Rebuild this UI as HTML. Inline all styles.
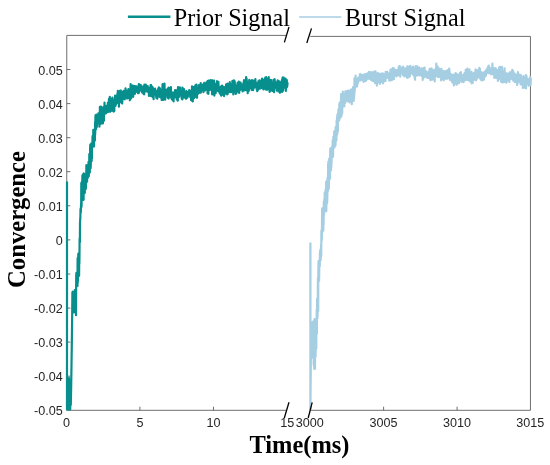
<!DOCTYPE html>
<html><head><meta charset="utf-8"><title>Convergence</title>
<style>
html,body{margin:0;padding:0;background:#fff;}
svg{display:block;}
.tk{font-family:"Liberation Sans",Arial,Helvetica,sans-serif;font-size:11.9px;fill:#262626;}
.lg{font-family:"Liberation Serif","Times New Roman",Times,serif;font-size:24.4px;fill:#000;}
.ax{font-family:"Liberation Serif","Times New Roman",Times,serif;font-weight:bold;fill:#000;}
</style></head>
<body>
<svg width="550" height="465" viewBox="0 0 550 465">
<rect x="0" y="0" width="550" height="465" fill="#ffffff"/>
<!-- axes frames -->
<g fill="none" stroke="#5e5e5e" stroke-width="0.9">
<polyline points="286.6,35.4 66.75,35.4 66.75,410.3 286.6,410.3"/>
<polyline points="310.3,36.4 530.45,36.4 530.45,410.3 310.6,410.3"/>
<!-- y ticks -->
<path d="M66.75,69.5h3.6M66.75,103.6h3.6M66.75,137.7h3.6M66.75,171.7h3.6M66.75,205.8h3.6M66.75,239.9h3.6M66.75,274h3.6M66.75,308.1h3.6M66.75,342.1h3.6M66.75,376.2h3.6"/>
<!-- x ticks -->
<path d="M139.9,410.3v-3.6M213.5,410.3v-3.6M383.6,410.3v-3.6M457.1,410.3v-3.6"/>
</g>
<!-- curves -->
<polyline fill="none" stroke="#078f8d" stroke-width="2.2" stroke-linejoin="round" points="67.0,181.5 67.0,409.6 67.4,385.0 67.8,409.0 68.2,380.0 68.6,409.5 69.0,378.0 69.4,409.0 69.8,382.0 70.2,409.5 70.6,392.0 70.8,405.0 71.2,385.0 71.5,365.0 71.8,345.0 72.0,330.0 72.2,313.2 72.4,292.6 72.5,292.0 72.7,304.1 72.8,291.7 73.0,291.9 73.2,292.4 73.3,294.8 73.5,304.8 73.6,299.6 73.8,312.5 74.0,296.4 74.1,296.9 74.3,310.9 74.4,305.9 74.6,298.5 74.8,290.0 74.9,294.0 75.1,296.9 75.2,304.3 75.4,309.8 75.6,306.2 75.7,299.2 75.9,311.1 76.0,315.2 76.2,275.9 76.4,272.8 76.5,277.7 76.7,283.3 76.8,276.9 77.0,279.3 77.2,276.2 77.3,283.0 77.5,286.0 77.6,258.2 77.8,278.1 78.0,281.9 78.1,263.5 78.3,253.8 78.4,267.6 78.6,253.4 78.8,275.4 78.9,261.4 79.1,275.8 79.2,259.6 79.4,263.6 79.6,240.0 79.7,238.0 79.9,242.2 80.0,223.0 80.2,219.4 80.4,216.2 80.5,209.1 80.7,208.5 80.8,212.8 81.0,205.6 81.2,202.6 81.3,183.0 81.5,207.0 81.6,203.9 81.8,182.0 82.0,197.4 82.1,183.6 82.3,181.3 82.4,175.5 82.6,179.3 82.8,174.6 82.9,199.8 83.1,179.9 83.2,181.9 83.4,196.4 83.6,199.8 83.7,173.4 83.9,173.7 84.0,192.7 84.2,174.9 84.4,183.9 84.5,174.2 84.7,183.1 84.8,193.0 85.0,175.9 85.2,177.7 85.3,180.8 85.5,185.7 85.6,185.8 85.8,188.9 86.0,184.3 86.1,181.8 86.3,172.7 86.4,165.1 86.6,169.7 86.8,177.8 86.9,181.7 87.1,181.7 87.2,167.8 87.4,167.7 87.6,173.9 87.7,177.9 87.9,173.7 88.0,175.6 88.2,176.8 88.4,174.1 88.5,161.9 88.7,172.9 88.8,176.2 89.0,162.5 89.2,169.1 89.3,154.2 89.5,171.9 89.6,168.5 89.8,172.6 90.0,163.2 90.1,148.2 90.3,144.5 90.4,157.8 90.6,168.1 90.8,164.3 90.9,147.4 91.1,147.5 91.2,155.4 91.4,143.3 91.6,161.3 91.7,152.2 91.9,159.0 92.0,148.1 92.2,147.8 92.4,144.5 92.5,137.2 92.7,135.8 92.8,142.3 93.0,137.6 93.2,141.4 93.3,129.8 93.5,140.4 93.6,144.9 93.8,137.0 94.0,146.4 94.1,132.9 94.3,133.5 94.4,136.8 94.6,130.2 94.8,140.6 94.9,139.3 95.1,121.9 95.2,134.3 95.4,117.3 95.6,115.0 95.7,117.8 95.9,128.3 96.0,129.3 96.2,123.9 96.4,114.5 96.5,115.5 96.7,126.5 96.8,126.9 97.0,124.3 97.2,121.7 97.3,123.1 97.5,114.8 97.6,118.3 97.8,119.9 98.0,122.1 98.1,118.1 98.3,117.2 98.4,113.3 98.6,116.1 98.8,121.7 98.9,117.9 99.1,113.4 99.2,113.3 99.4,126.7 99.6,122.1 99.7,119.6 99.9,106.8 100.0,119.3 100.2,118.5 100.4,123.9 100.5,118.0 100.7,115.5 100.8,118.1 101.0,106.5 101.2,120.2 101.3,116.8 101.5,111.8 101.6,121.2 101.8,123.3 102.0,108.1 102.1,111.4 102.3,115.8 102.4,115.1 102.6,112.2 102.8,109.4 102.9,123.4 103.1,118.3 103.2,107.9 103.4,107.0 103.6,120.7 103.7,117.3 103.9,120.8 104.0,116.1 104.2,108.4 104.4,113.2 104.5,102.6 104.7,108.4 104.8,111.3 105.0,113.6 105.2,108.0 105.3,110.4 105.5,112.8 105.6,112.2 105.8,113.1 106.0,111.1 106.1,108.6 106.3,113.2 106.4,109.8 106.6,105.9 106.8,106.6 106.9,109.1 107.1,108.4 107.2,109.4 107.4,108.5 107.6,109.1 107.7,107.6 107.9,102.7 108.0,109.5 108.2,112.0 108.4,109.2 108.5,106.4 108.7,108.9 108.8,102.8 109.0,98.8 109.2,106.7 109.3,102.3 109.5,109.1 109.6,101.2 109.8,96.8 110.0,101.0 110.1,111.8 110.3,103.4 110.4,98.9 110.6,101.3 110.8,106.7 110.9,106.5 111.1,104.9 111.2,110.6 111.4,106.9 111.6,103.5 111.7,106.1 111.9,110.8 112.0,107.6 112.2,107.7 112.4,97.6 112.5,101.8 112.7,105.8 112.8,100.8 113.0,107.2 113.2,104.8 113.3,106.2 113.5,100.8 113.6,111.6 113.8,107.5 114.0,100.5 114.1,101.9 114.3,111.1 114.4,99.7 114.6,105.2 114.8,105.6 114.9,101.1 115.1,95.6 115.2,101.7 115.4,102.4 115.6,105.8 115.7,104.1 115.9,100.7 116.0,104.3 116.2,102.8 116.4,101.2 116.5,100.5 116.7,99.1 116.8,103.1 117.0,95.4 117.2,97.2 117.3,99.8 117.5,93.4 117.6,97.8 117.8,90.9 118.0,96.5 118.1,101.8 118.3,101.7 118.4,99.0 118.6,98.2 118.8,93.1 118.9,106.7 119.1,101.1 119.2,103.4 119.4,95.1 119.6,97.9 119.7,91.0 119.9,101.8 120.0,102.3 120.2,90.5 120.4,98.1 120.5,100.8 120.7,90.9 120.8,90.5 121.0,93.6 121.2,95.3 121.3,92.1 121.5,97.9 121.6,98.7 121.8,100.2 122.0,100.4 122.1,103.5 122.3,102.1 122.4,92.1 122.6,95.3 122.8,93.0 122.9,92.9 123.1,96.8 123.2,97.1 123.4,99.0 123.6,90.8 123.7,92.2 123.9,96.8 124.0,96.1 124.2,95.6 124.4,96.5 124.5,93.8 124.7,99.3 124.8,97.9 125.0,96.2 125.2,93.9 125.3,95.7 125.5,88.4 125.6,92.5 125.8,96.2 126.0,90.3 126.1,96.8 126.3,96.8 126.4,90.5 126.6,95.3 126.8,94.9 126.9,98.0 127.1,98.5 127.2,95.5 127.4,92.0 127.6,94.7 127.7,94.9 127.9,97.9 128.0,96.0 128.2,91.7 128.4,89.1 128.5,92.8 128.7,91.2 128.8,89.7 129.0,93.3 129.2,91.7 129.3,93.7 129.5,95.0 129.6,91.4 129.8,100.3 130.0,91.3 130.1,96.2 130.3,92.5 130.4,95.8 130.6,84.2 130.8,88.8 130.9,92.2 131.1,93.3 131.2,98.5 131.4,92.0 131.6,95.3 131.7,93.3 131.9,93.8 132.0,92.0 132.2,89.4 132.4,91.7 132.5,85.7 132.7,93.9 132.8,85.6 133.0,90.1 133.2,96.8 133.3,88.1 133.5,89.0 133.6,93.0 133.8,88.9 134.0,86.0 134.1,89.6 134.3,90.6 134.4,90.9 134.6,86.2 134.8,94.0 134.9,93.6 135.1,88.5 135.2,89.2 135.4,87.2 135.6,92.2 135.7,86.4 135.9,90.0 136.0,87.0 136.2,86.4 136.4,89.9 136.5,91.3 136.7,88.1 136.8,86.6 137.0,90.1 137.2,88.1 137.3,89.0 137.5,91.8 137.6,90.9 137.8,87.1 138.0,93.3 138.1,88.3 138.3,90.2 138.4,86.8 138.6,88.3 138.8,84.2 138.9,92.7 139.1,91.7 139.2,85.5 139.4,84.8 139.6,84.5 139.7,91.3 139.9,87.3 140.0,88.3 140.2,87.7 140.4,88.2 140.5,85.8 140.7,88.6 140.8,85.0 141.0,88.4 141.2,89.3 141.3,89.7 141.5,88.0 141.6,86.4 141.8,89.1 142.0,87.5 142.1,92.6 142.3,90.7 142.4,88.5 142.6,87.6 142.8,87.1 142.9,86.5 143.1,88.0 143.2,89.7 143.4,90.2 143.6,90.4 143.7,94.2 143.9,87.3 144.0,89.1 144.2,94.3 144.4,84.5 144.5,87.9 144.7,89.6 144.8,89.6 145.0,90.3 145.2,88.7 145.3,90.2 145.5,89.5 145.6,91.3 145.8,84.7 146.0,87.2 146.1,89.4 146.3,86.9 146.4,86.9 146.6,91.1 146.8,87.9 146.9,91.2 147.1,91.5 147.2,90.5 147.4,91.1 147.6,89.5 147.7,86.1 147.9,89.9 148.0,91.3 148.2,88.6 148.4,89.8 148.5,92.3 148.7,87.7 148.8,92.2 149.0,95.9 149.2,88.8 149.3,91.0 149.5,90.1 149.6,95.4 149.8,91.7 150.0,93.6 150.1,88.6 150.3,90.8 150.4,90.9 150.6,85.1 150.8,95.9 150.9,94.2 151.1,85.2 151.2,93.8 151.4,90.9 151.6,92.9 151.7,92.7 151.9,86.4 152.0,90.9 152.2,96.7 152.4,89.8 152.5,88.3 152.7,87.3 152.8,87.8 153.0,93.1 153.2,97.7 153.3,93.6 153.5,93.0 153.6,99.2 153.8,90.6 154.0,90.2 154.1,94.2 154.3,94.3 154.4,89.3 154.6,88.8 154.8,93.7 154.9,93.6 155.1,88.6 155.2,92.3 155.4,91.2 155.6,94.5 155.7,92.8 155.9,92.9 156.0,92.2 156.2,96.7 156.4,97.9 156.5,92.3 156.7,96.3 156.8,91.2 157.0,93.9 157.2,96.2 157.3,98.6 157.5,92.7 157.6,93.8 157.8,94.7 158.0,89.2 158.1,94.1 158.3,91.8 158.4,95.3 158.6,90.3 158.8,87.4 158.9,94.2 159.1,94.9 159.2,92.1 159.4,96.8 159.6,92.9 159.7,91.7 159.9,95.3 160.0,88.4 160.2,91.3 160.4,93.4 160.5,96.2 160.7,92.8 160.8,94.3 161.0,91.1 161.2,94.1 161.3,98.5 161.5,90.5 161.6,99.9 161.8,90.3 162.0,92.5 162.1,92.9 162.3,95.9 162.4,87.5 162.6,84.1 162.8,94.2 162.9,94.9 163.1,94.1 163.2,100.0 163.4,92.3 163.6,92.4 163.7,95.2 163.9,92.9 164.0,98.2 164.2,86.7 164.4,90.2 164.5,83.7 164.7,95.0 164.8,90.6 165.0,95.5 165.2,99.7 165.3,92.3 165.5,91.5 165.6,90.8 165.8,89.8 166.0,90.6 166.1,94.8 166.3,92.8 166.4,92.9 166.6,92.1 166.8,95.7 166.9,94.4 167.1,92.3 167.2,95.0 167.4,92.3 167.6,88.9 167.7,97.8 167.9,94.5 168.0,89.6 168.2,96.6 168.4,94.1 168.5,87.5 168.7,98.6 168.8,94.2 169.0,96.2 169.2,93.9 169.3,92.8 169.5,88.1 169.6,96.8 169.8,93.6 170.0,92.6 170.1,94.8 170.3,94.0 170.4,96.0 170.6,92.6 170.8,93.8 170.9,87.1 171.1,92.7 171.2,96.3 171.4,98.5 171.6,93.1 171.7,94.0 171.9,99.4 172.0,93.4 172.2,96.8 172.4,99.8 172.5,94.8 172.7,98.5 172.8,92.6 173.0,95.5 173.2,94.7 173.3,95.4 173.5,98.5 173.6,101.4 173.8,93.2 174.0,93.6 174.1,96.7 174.3,92.1 174.4,96.6 174.6,96.8 174.8,94.1 174.9,96.5 175.1,90.1 175.2,97.1 175.4,90.0 175.6,92.5 175.7,92.9 175.9,93.3 176.0,97.2 176.2,94.6 176.4,93.1 176.5,96.0 176.7,99.3 176.8,94.1 177.0,95.2 177.2,98.0 177.3,94.8 177.5,89.6 177.6,100.7 177.8,100.7 178.0,87.0 178.1,93.5 178.3,94.9 178.4,96.7 178.6,95.7 178.8,92.5 178.9,89.9 179.1,93.8 179.2,96.8 179.4,89.9 179.6,90.2 179.7,93.4 179.9,87.4 180.0,92.7 180.2,92.2 180.4,94.9 180.5,91.4 180.7,90.9 180.8,92.4 181.0,93.5 181.2,91.6 181.3,93.7 181.5,96.0 181.6,97.3 181.8,98.8 182.0,91.5 182.1,92.6 182.3,87.7 182.4,99.4 182.6,91.8 182.8,93.8 182.9,95.4 183.1,90.1 183.2,95.3 183.4,93.9 183.6,88.9 183.7,94.9 183.9,97.4 184.0,89.0 184.2,96.3 184.4,94.7 184.5,95.5 184.7,95.4 184.8,97.7 185.0,93.7 185.2,96.5 185.3,93.1 185.5,96.1 185.6,92.0 185.8,93.8 186.0,98.8 186.1,95.3 186.3,93.6 186.4,90.9 186.6,91.8 186.8,94.5 186.9,96.5 187.1,95.1 187.2,95.3 187.4,93.7 187.6,97.6 187.7,92.7 187.9,92.2 188.0,96.2 188.2,93.9 188.4,92.9 188.5,92.0 188.7,92.9 188.8,95.3 189.0,94.6 189.2,90.1 189.3,94.7 189.5,94.0 189.6,90.6 189.8,95.6 190.0,92.6 190.1,92.4 190.3,95.8 190.4,97.4 190.6,91.4 190.8,94.8 190.9,90.8 191.1,100.2 191.2,92.0 191.4,97.5 191.6,91.4 191.7,96.3 191.9,100.7 192.0,86.3 192.2,92.1 192.4,95.4 192.5,93.3 192.7,91.2 192.8,101.4 193.0,94.0 193.2,87.5 193.3,97.0 193.5,87.0 193.6,98.2 193.8,91.3 194.0,94.0 194.1,98.1 194.3,93.7 194.4,87.9 194.6,86.7 194.8,97.2 194.9,95.4 195.1,89.7 195.2,95.6 195.4,94.1 195.6,94.5 195.7,84.8 195.9,91.0 196.0,94.9 196.2,94.2 196.4,94.6 196.5,84.6 196.7,91.9 196.8,92.9 197.0,97.8 197.2,88.0 197.3,89.9 197.5,90.9 197.6,93.4 197.8,89.2 198.0,93.8 198.1,88.0 198.3,91.0 198.4,88.5 198.6,90.4 198.8,87.9 198.9,85.2 199.1,92.9 199.2,90.6 199.4,88.0 199.6,90.2 199.7,92.4 199.9,86.6 200.0,89.1 200.2,90.9 200.4,90.8 200.5,88.2 200.7,83.0 200.8,92.7 201.0,90.0 201.2,89.0 201.3,88.1 201.5,89.6 201.6,87.5 201.8,85.7 202.0,86.5 202.1,86.9 202.3,86.8 202.4,85.1 202.6,90.3 202.8,84.6 202.9,90.3 203.1,85.3 203.2,89.3 203.4,92.2 203.6,88.8 203.7,86.0 203.9,88.2 204.0,88.5 204.2,82.9 204.4,86.2 204.5,88.4 204.7,86.5 204.8,88.1 205.0,90.0 205.2,90.0 205.3,90.4 205.5,89.4 205.6,86.8 205.8,87.5 206.0,86.7 206.1,86.6 206.3,86.9 206.4,82.3 206.6,86.4 206.8,87.3 206.9,84.4 207.1,87.2 207.2,88.8 207.4,86.7 207.6,93.5 207.7,80.9 207.9,86.6 208.0,81.6 208.2,90.3 208.4,93.8 208.5,80.7 208.7,87.7 208.8,88.9 209.0,86.3 209.2,89.0 209.3,80.5 209.5,90.0 209.6,88.5 209.8,87.4 210.0,85.4 210.1,89.4 210.3,85.7 210.4,88.1 210.6,85.6 210.8,80.2 210.9,87.2 211.1,88.0 211.2,89.9 211.4,84.3 211.6,87.2 211.7,89.5 211.9,87.9 212.0,91.7 212.2,94.5 212.4,84.1 212.5,80.4 212.7,90.5 212.8,93.0 213.0,90.8 213.2,90.5 213.3,85.1 213.5,84.8 213.6,90.8 213.8,84.0 214.0,80.7 214.1,83.8 214.3,95.6 214.4,95.0 214.6,85.2 214.8,85.1 214.9,88.8 215.1,85.2 215.2,93.0 215.4,87.9 215.6,84.2 215.7,93.1 215.9,86.2 216.0,89.2 216.2,88.4 216.4,87.4 216.5,89.8 216.7,86.1 216.8,82.0 217.0,81.2 217.2,84.3 217.3,86.2 217.5,88.9 217.6,89.2 217.8,91.0 218.0,89.5 218.1,86.3 218.3,86.7 218.4,81.8 218.6,88.6 218.8,90.9 218.9,91.1 219.1,88.8 219.2,88.7 219.4,92.6 219.6,89.4 219.7,91.9 219.9,91.4 220.0,90.2 220.2,93.9 220.4,87.5 220.5,88.3 220.7,86.7 220.8,86.8 221.0,94.9 221.2,95.6 221.3,89.7 221.5,91.6 221.6,93.7 221.8,92.4 222.0,93.8 222.1,85.5 222.3,87.6 222.4,91.3 222.6,94.6 222.8,90.1 222.9,86.9 223.1,88.6 223.2,87.6 223.4,86.9 223.6,94.4 223.7,87.6 223.9,89.6 224.0,96.1 224.2,93.2 224.4,90.5 224.5,87.4 224.7,90.6 224.8,94.3 225.0,91.1 225.2,93.0 225.3,89.4 225.5,90.6 225.6,88.3 225.8,90.2 226.0,92.8 226.1,84.4 226.3,88.5 226.4,89.4 226.6,86.9 226.8,87.6 226.9,90.9 227.1,94.5 227.2,90.3 227.4,89.3 227.6,83.6 227.7,94.0 227.9,88.4 228.0,88.0 228.2,84.7 228.4,87.8 228.5,84.6 228.7,88.1 228.8,89.2 229.0,87.8 229.2,88.6 229.3,85.2 229.5,92.0 229.6,85.7 229.8,82.2 230.0,87.1 230.1,85.4 230.3,84.6 230.4,86.6 230.6,88.6 230.8,84.0 230.9,87.2 231.1,92.1 231.2,89.8 231.4,87.2 231.6,88.0 231.7,87.2 231.9,87.5 232.0,90.0 232.2,87.3 232.4,80.8 232.5,87.5 232.7,84.7 232.8,89.7 233.0,85.5 233.2,88.0 233.3,94.5 233.5,84.0 233.6,83.8 233.8,82.8 234.0,80.4 234.1,81.1 234.3,88.7 234.4,85.3 234.6,81.1 234.8,82.4 234.9,89.6 235.1,84.9 235.2,86.3 235.4,88.6 235.6,92.0 235.7,93.9 235.9,90.8 236.0,87.9 236.2,88.0 236.4,93.2 236.5,92.0 236.7,86.3 236.8,88.8 237.0,88.2 237.2,87.4 237.3,85.7 237.5,83.1 237.6,85.6 237.8,82.5 238.0,90.9 238.1,88.8 238.3,83.5 238.4,91.3 238.6,89.8 238.8,81.5 238.9,92.5 239.1,89.4 239.2,93.0 239.4,83.5 239.6,88.5 239.7,88.2 239.9,87.5 240.0,87.4 240.2,89.9 240.4,82.6 240.5,83.2 240.7,82.7 240.8,85.1 241.0,84.9 241.2,87.8 241.3,87.4 241.5,86.7 241.6,84.4 241.8,85.1 242.0,89.5 242.1,88.9 242.3,86.7 242.4,85.3 242.6,91.4 242.8,84.3 242.9,88.4 243.1,90.1 243.2,85.2 243.4,88.9 243.6,82.1 243.7,89.6 243.9,86.7 244.0,80.2 244.2,88.3 244.4,82.6 244.5,90.5 244.7,83.2 244.8,85.1 245.0,86.7 245.2,84.3 245.3,86.6 245.5,83.4 245.6,88.1 245.8,85.5 246.0,86.3 246.1,77.0 246.3,90.0 246.4,85.5 246.6,78.5 246.8,85.8 246.9,87.2 247.1,89.5 247.2,81.3 247.4,91.2 247.6,84.8 247.7,93.2 247.9,84.9 248.0,87.9 248.2,84.1 248.4,81.4 248.5,89.4 248.7,88.7 248.8,90.8 249.0,88.4 249.2,83.5 249.3,79.8 249.5,83.3 249.6,83.2 249.8,82.8 250.0,87.4 250.1,86.6 250.3,84.6 250.4,86.0 250.6,85.0 250.8,86.2 250.9,87.9 251.1,88.5 251.2,83.3 251.4,80.7 251.6,89.9 251.7,85.7 251.9,88.8 252.0,80.2 252.2,84.3 252.4,85.4 252.5,80.8 252.7,83.6 252.8,87.5 253.0,88.6 253.2,90.1 253.3,82.4 253.5,80.7 253.6,86.7 253.8,88.0 254.0,85.6 254.1,80.9 254.3,87.4 254.4,87.4 254.6,86.7 254.8,83.4 254.9,85.8 255.1,87.3 255.2,83.1 255.4,79.1 255.6,85.8 255.7,86.3 255.9,84.8 256.0,87.5 256.2,82.9 256.4,84.4 256.5,83.7 256.7,86.4 256.8,89.6 257.0,83.8 257.2,91.1 257.3,89.5 257.5,87.2 257.6,86.6 257.8,90.3 258.0,84.2 258.1,84.4 258.3,81.4 258.4,86.3 258.6,89.1 258.8,86.5 258.9,86.2 259.1,84.2 259.2,85.4 259.4,80.4 259.6,88.3 259.7,83.6 259.9,81.4 260.0,82.6 260.2,82.4 260.4,87.8 260.5,88.5 260.7,80.7 260.8,88.1 261.0,88.0 261.2,83.3 261.3,80.3 261.5,82.8 261.6,83.1 261.8,86.3 262.0,84.1 262.1,78.6 262.3,86.0 262.4,80.1 262.6,88.2 262.8,81.1 262.9,82.8 263.1,82.2 263.2,83.2 263.4,89.4 263.6,87.9 263.7,87.0 263.9,86.0 264.0,79.6 264.2,83.1 264.4,83.0 264.5,81.5 264.7,86.6 264.8,82.2 265.0,82.3 265.2,81.1 265.3,77.5 265.5,86.8 265.6,89.4 265.8,85.3 266.0,81.2 266.1,77.1 266.3,85.2 266.4,88.9 266.6,85.6 266.8,87.8 266.9,89.8 267.1,88.5 267.2,82.8 267.4,88.2 267.6,87.2 267.7,78.7 267.9,82.9 268.0,79.2 268.2,84.0 268.4,86.5 268.5,80.5 268.7,77.0 268.8,89.2 269.0,85.8 269.2,89.8 269.3,79.7 269.5,88.3 269.6,92.0 269.8,91.7 270.0,83.8 270.1,85.5 270.3,84.0 270.4,88.2 270.6,88.3 270.8,84.9 270.9,79.8 271.1,87.3 271.2,83.0 271.4,86.9 271.6,85.6 271.7,90.4 271.9,88.7 272.0,83.1 272.2,86.0 272.4,91.0 272.5,82.9 272.7,86.3 272.8,89.0 273.0,89.2 273.2,86.6 273.3,80.2 273.5,80.5 273.6,85.7 273.8,86.2 274.0,92.2 274.1,81.9 274.3,88.9 274.4,87.6 274.6,79.2 274.8,82.2 274.9,85.6 275.1,83.3 275.2,84.5 275.4,86.6 275.6,82.2 275.7,86.6 275.9,82.8 276.0,83.1 276.2,86.9 276.4,83.0 276.5,86.0 276.7,90.6 276.8,85.1 277.0,84.4 277.2,87.6 277.3,83.6 277.5,88.9 277.6,80.3 277.8,87.2 278.0,83.1 278.1,82.0 278.3,91.4 278.4,81.8 278.6,91.4 278.8,87.4 278.9,90.3 279.1,81.3 279.2,89.4 279.4,90.4 279.6,84.5 279.7,84.4 279.9,92.8 280.0,85.6 280.2,83.3 280.4,82.5 280.5,86.6 280.7,86.2 280.8,85.6 281.0,91.5 281.2,83.6 281.3,86.7 281.5,90.5 281.6,81.0 281.8,88.9 282.0,92.0 282.1,79.6 282.3,80.6 282.4,80.8 282.6,77.6 282.8,86.7 282.9,77.5 283.1,86.9 283.2,90.7 283.4,78.6 283.6,83.8 283.7,77.6 283.9,88.1 284.0,82.3 284.2,84.1 284.4,85.3 284.5,87.1 284.7,83.8 284.8,85.1 285.0,83.2 285.2,85.4 285.3,81.1 285.5,85.2 285.6,78.7 285.8,83.4 286.0,90.9 286.1,85.2 286.3,81.2 286.4,85.7 286.6,82.1 286.8,80.2 286.9,82.8 287.1,86.8 287.2,85.8 287.4,84.6 287.6,82.5"/>
<polyline fill="none" stroke="#a6cee3" stroke-width="2.2" stroke-linejoin="round" points="310.4,242.5 310.4,409.6 311.0,345.0 311.3,325.1 311.5,349.0 311.6,323.6 311.8,353.0 311.9,326.0 312.1,353.0 312.3,322.4 312.4,357.3 312.6,322.1 312.7,352.1 312.9,325.2 313.1,355.7 313.2,325.1 313.4,358.2 313.5,321.2 313.7,364.9 313.9,327.0 314.0,367.0 314.2,324.7 314.3,368.9 314.5,319.0 314.7,363.7 314.8,321.9 315.0,368.7 315.1,321.9 315.3,357.8 315.5,322.8 315.6,356.8 315.8,321.1 315.9,349.0 316.1,320.6 316.3,348.8 316.4,321.1 316.6,334.3 316.7,309.8 316.9,333.8 317.1,298.8 317.2,299.2 317.4,318.1 317.5,316.9 317.7,311.0 317.9,277.8 318.0,300.5 318.2,311.3 318.3,274.6 318.5,262.5 318.7,260.8 318.8,261.0 319.0,266.4 319.1,280.8 319.3,266.7 319.5,266.4 319.6,260.0 319.8,266.2 319.9,253.0 320.1,252.4 320.3,249.9 320.4,258.1 320.6,251.0 320.7,260.2 320.9,249.9 321.1,244.7 321.2,256.2 321.4,230.5 321.5,233.0 321.7,240.9 321.9,236.1 322.0,221.7 322.2,208.4 322.3,225.5 322.5,231.7 322.7,231.3 322.8,229.4 323.0,208.6 323.1,229.1 323.3,230.6 323.5,208.8 323.6,224.6 323.8,201.7 323.9,202.0 324.1,215.0 324.3,199.4 324.4,200.3 324.6,207.0 324.7,192.5 324.9,196.9 325.1,208.5 325.2,205.1 325.4,202.2 325.5,190.9 325.7,189.4 325.9,201.3 326.0,194.5 326.2,181.5 326.3,211.3 326.5,198.1 326.7,201.6 326.8,186.5 327.0,190.6 327.1,203.3 327.3,198.0 327.5,177.9 327.6,192.2 327.8,190.5 327.9,190.8 328.1,164.2 328.3,167.8 328.4,161.5 328.6,177.3 328.7,189.0 328.9,186.7 329.1,168.8 329.2,158.7 329.4,171.7 329.5,172.7 329.7,163.8 329.9,164.2 330.0,178.8 330.2,149.2 330.3,149.3 330.5,171.0 330.7,148.1 330.8,167.2 331.0,170.3 331.1,151.6 331.3,167.3 331.5,161.7 331.6,162.0 331.8,149.1 331.9,148.2 332.1,153.5 332.3,146.0 332.4,154.9 332.6,144.5 332.7,140.2 332.9,156.9 333.1,154.7 333.2,145.1 333.4,136.5 333.5,146.9 333.7,142.0 333.9,141.8 334.0,144.5 334.2,131.4 334.3,145.0 334.5,147.5 334.7,134.3 334.8,133.8 335.0,144.6 335.1,137.1 335.3,133.1 335.5,145.5 335.6,127.0 335.8,129.4 335.9,133.7 336.1,127.3 336.3,129.7 336.4,140.7 336.6,122.1 336.7,120.1 336.9,134.3 337.1,117.1 337.2,134.4 337.4,114.6 337.5,132.3 337.7,122.1 337.9,131.2 338.0,113.4 338.2,113.3 338.3,112.7 338.5,109.3 338.7,116.9 338.8,111.4 339.0,119.5 339.1,120.7 339.3,104.5 339.5,117.2 339.6,102.5 339.8,117.4 339.9,118.3 340.1,109.8 340.3,108.9 340.4,117.8 340.6,116.6 340.7,104.7 340.9,110.0 341.1,94.1 341.2,107.1 341.4,95.7 341.5,116.1 341.7,100.1 341.9,111.4 342.0,95.1 342.2,113.3 342.3,105.0 342.5,107.0 342.7,97.4 342.8,91.6 343.0,98.4 343.1,97.6 343.3,98.3 343.5,102.3 343.6,97.3 343.8,98.9 343.9,99.8 344.1,97.3 344.3,106.4 344.4,99.1 344.6,97.2 344.7,95.7 344.9,93.6 345.1,103.1 345.2,97.2 345.4,91.3 345.5,93.7 345.7,95.7 345.9,94.4 346.0,101.5 346.2,91.4 346.3,98.9 346.5,97.4 346.7,91.8 346.8,97.1 347.0,96.6 347.1,99.1 347.3,95.3 347.5,98.4 347.6,90.8 347.8,93.2 347.9,100.4 348.1,101.3 348.3,97.5 348.4,95.5 348.6,101.5 348.7,90.7 348.9,95.2 349.1,100.1 349.2,100.1 349.4,94.9 349.5,92.4 349.7,102.5 349.9,98.4 350.0,95.0 350.2,98.0 350.3,100.6 350.5,90.6 350.7,101.3 350.8,99.9 351.0,89.7 351.1,99.6 351.3,89.6 351.5,100.5 351.6,97.3 351.8,104.2 351.9,92.4 352.1,94.7 352.3,99.2 352.4,91.0 352.6,90.2 352.7,91.5 352.9,92.6 353.1,87.0 353.2,94.9 353.4,95.0 353.5,92.0 353.7,101.1 353.9,89.0 354.0,98.5 354.2,87.2 354.3,95.1 354.5,78.2 354.7,91.4 354.8,88.6 355.0,86.1 355.1,84.9 355.3,86.0 355.5,83.4 355.6,75.6 355.8,83.1 355.9,82.8 356.1,82.5 356.3,79.5 356.4,83.2 356.6,86.6 356.7,81.6 356.9,80.1 357.1,86.5 357.2,84.3 357.4,83.6 357.5,84.1 357.7,78.9 357.9,79.3 358.0,83.0 358.2,77.5 358.3,78.6 358.5,79.9 358.7,79.6 358.8,77.4 359.0,80.7 359.1,77.3 359.3,79.6 359.5,80.4 359.6,79.2 359.8,79.3 359.9,74.5 360.1,74.1 360.3,75.8 360.4,78.3 360.6,80.5 360.7,74.3 360.9,77.6 361.1,75.1 361.2,75.4 361.4,76.4 361.5,78.5 361.7,77.5 361.9,79.6 362.0,75.0 362.2,79.1 362.3,79.2 362.5,77.3 362.7,78.3 362.8,76.0 363.0,74.9 363.1,76.4 363.3,75.9 363.5,82.0 363.6,76.4 363.8,81.1 363.9,77.9 364.1,78.2 364.3,79.1 364.4,75.7 364.6,79.6 364.7,78.3 364.9,74.0 365.1,78.9 365.2,78.8 365.4,78.6 365.5,81.2 365.7,76.5 365.9,78.7 366.0,79.3 366.2,75.3 366.3,80.4 366.5,74.0 366.7,74.3 366.8,78.8 367.0,74.8 367.1,77.2 367.3,73.4 367.5,77.7 367.6,74.7 367.8,78.4 367.9,73.6 368.1,78.7 368.3,76.9 368.4,77.8 368.6,77.4 368.7,77.9 368.9,74.1 369.1,71.9 369.2,77.7 369.4,75.1 369.5,76.4 369.7,78.8 369.9,72.1 370.0,75.5 370.2,75.9 370.3,74.7 370.5,78.6 370.7,77.3 370.8,75.3 371.0,74.8 371.1,80.1 371.3,75.8 371.5,79.4 371.6,79.0 371.8,72.0 371.9,74.4 372.1,77.7 372.3,78.8 372.4,80.1 372.6,80.2 372.7,81.0 372.9,76.6 373.1,77.1 373.2,80.2 373.4,76.4 373.5,81.2 373.7,72.7 373.9,79.9 374.0,77.2 374.2,71.5 374.3,81.1 374.5,79.0 374.7,78.1 374.8,74.6 375.0,76.6 375.1,83.2 375.3,75.5 375.5,71.3 375.6,75.5 375.8,74.4 375.9,78.1 376.1,77.3 376.3,75.6 376.4,75.9 376.6,82.3 376.7,73.9 376.9,85.6 377.1,77.1 377.2,75.3 377.4,81.7 377.5,80.9 377.7,75.6 377.9,81.4 378.0,73.1 378.2,76.1 378.3,82.5 378.5,78.2 378.7,75.1 378.8,80.5 379.0,81.7 379.1,78.9 379.3,73.9 379.5,78.0 379.6,80.1 379.8,81.1 379.9,83.9 380.1,78.3 380.3,77.8 380.4,78.9 380.6,82.0 380.7,76.6 380.9,82.1 381.1,73.5 381.2,80.8 381.4,77.0 381.5,79.8 381.7,80.3 381.9,75.6 382.0,78.3 382.2,79.0 382.3,79.9 382.5,76.0 382.7,75.8 382.8,73.3 383.0,83.5 383.1,77.6 383.3,77.5 383.5,74.2 383.6,80.3 383.8,76.5 383.9,81.5 384.1,80.0 384.3,77.8 384.4,79.5 384.6,74.8 384.7,76.7 384.9,76.0 385.1,74.2 385.2,77.5 385.4,77.0 385.5,81.0 385.7,71.8 385.9,75.5 386.0,74.8 386.2,75.9 386.3,78.1 386.5,78.0 386.7,77.0 386.8,75.6 387.0,78.0 387.1,77.6 387.3,71.9 387.5,75.9 387.6,73.0 387.8,73.4 387.9,76.8 388.1,76.5 388.3,76.6 388.4,74.0 388.6,75.6 388.7,73.7 388.9,77.0 389.1,77.7 389.2,80.4 389.4,79.1 389.5,73.6 389.7,74.5 389.9,73.1 390.0,76.3 390.2,80.7 390.3,77.2 390.5,69.6 390.7,71.8 390.8,71.6 391.0,76.4 391.1,74.9 391.3,75.7 391.5,79.7 391.6,72.4 391.8,72.2 391.9,80.1 392.1,75.4 392.3,72.1 392.4,68.5 392.6,69.8 392.7,68.0 392.9,74.2 393.1,74.1 393.2,76.8 393.4,73.4 393.5,71.7 393.7,71.5 393.9,79.2 394.0,68.3 394.2,74.0 394.3,73.4 394.5,75.1 394.7,72.0 394.8,74.6 395.0,75.5 395.1,72.6 395.3,71.6 395.5,72.3 395.6,70.0 395.8,72.1 395.9,71.8 396.1,73.2 396.3,76.4 396.4,76.3 396.6,71.1 396.7,74.1 396.9,73.1 397.1,74.4 397.2,72.2 397.4,72.8 397.5,70.7 397.7,69.7 397.9,74.3 398.0,75.5 398.2,73.6 398.3,72.9 398.5,72.3 398.7,70.3 398.8,66.5 399.0,73.2 399.1,71.9 399.3,69.7 399.5,68.5 399.6,74.6 399.8,66.1 399.9,75.8 400.1,72.7 400.3,76.6 400.4,68.8 400.6,70.7 400.7,69.3 400.9,71.0 401.1,70.0 401.2,68.5 401.4,73.3 401.5,68.2 401.7,68.9 401.9,71.7 402.0,68.7 402.2,68.9 402.3,71.0 402.5,69.1 402.7,66.7 402.8,69.9 403.0,69.6 403.1,75.2 403.3,67.2 403.5,73.3 403.6,68.1 403.8,69.5 403.9,69.6 404.1,71.5 404.3,73.5 404.4,76.4 404.6,68.7 404.7,75.3 404.9,74.3 405.1,73.8 405.2,68.4 405.4,74.3 405.5,70.8 405.7,72.5 405.9,70.3 406.0,73.8 406.2,75.6 406.3,75.8 406.5,70.7 406.7,75.5 406.8,77.4 407.0,68.0 407.1,77.7 407.3,66.4 407.5,74.1 407.6,74.3 407.8,77.8 407.9,72.9 408.1,69.8 408.3,68.6 408.4,66.8 408.6,74.4 408.7,70.6 408.9,68.8 409.1,73.2 409.2,68.6 409.4,69.7 409.5,69.6 409.7,76.7 409.9,75.9 410.0,70.5 410.2,65.9 410.3,71.8 410.5,71.0 410.7,71.8 410.8,72.4 411.0,69.7 411.1,73.5 411.3,73.3 411.5,71.5 411.6,69.8 411.8,69.6 411.9,73.4 412.1,67.8 412.3,70.8 412.4,69.0 412.6,66.9 412.7,73.6 412.9,71.6 413.1,71.9 413.2,74.9 413.4,66.7 413.5,71.8 413.7,73.2 413.9,75.3 414.0,68.4 414.2,75.1 414.3,73.3 414.5,77.4 414.7,76.5 414.8,74.3 415.0,79.7 415.1,72.2 415.3,70.7 415.5,71.0 415.6,69.0 415.8,71.9 415.9,66.0 416.1,71.7 416.3,73.2 416.4,74.8 416.6,70.7 416.7,75.7 416.9,69.8 417.1,71.2 417.2,66.4 417.4,69.5 417.5,69.4 417.7,75.1 417.9,72.6 418.0,68.6 418.2,72.5 418.3,72.3 418.5,70.6 418.7,71.2 418.8,70.6 419.0,70.1 419.1,67.3 419.3,71.4 419.5,74.9 419.6,75.5 419.8,71.2 419.9,70.1 420.1,71.6 420.3,74.8 420.4,73.4 420.6,70.8 420.7,73.7 420.9,72.1 421.1,74.4 421.2,71.7 421.4,68.4 421.5,73.4 421.7,75.8 421.9,69.7 422.0,73.1 422.2,76.4 422.3,72.2 422.5,71.3 422.7,80.0 422.8,76.0 423.0,76.6 423.1,70.3 423.3,78.4 423.5,68.1 423.6,71.6 423.8,75.4 423.9,77.2 424.1,70.4 424.3,71.1 424.4,73.7 424.6,67.5 424.7,74.8 424.9,74.6 425.1,71.7 425.2,74.4 425.4,75.0 425.5,73.7 425.7,74.3 425.9,76.8 426.0,71.5 426.2,73.2 426.3,71.4 426.5,75.6 426.7,71.8 426.8,74.3 427.0,73.5 427.1,73.3 427.3,78.0 427.5,73.1 427.6,77.4 427.8,75.8 427.9,77.4 428.1,73.1 428.3,76.4 428.4,76.0 428.6,72.0 428.7,74.8 428.9,73.6 429.1,74.0 429.2,78.3 429.4,72.0 429.5,68.9 429.7,68.8 429.9,72.9 430.0,72.3 430.2,74.4 430.3,76.2 430.5,80.1 430.7,75.4 430.8,75.9 431.0,72.1 431.1,76.4 431.3,78.9 431.5,78.8 431.6,68.3 431.8,77.4 431.9,79.7 432.1,77.3 432.3,69.9 432.4,73.7 432.6,76.6 432.7,76.0 432.9,72.1 433.1,71.9 433.2,77.8 433.4,70.5 433.5,79.4 433.7,74.9 433.9,75.8 434.0,70.6 434.2,73.0 434.3,77.1 434.5,70.0 434.7,81.4 434.8,69.6 435.0,69.9 435.1,74.1 435.3,75.4 435.5,76.2 435.6,71.9 435.8,72.3 435.9,72.0 436.1,70.4 436.3,63.7 436.4,76.2 436.6,73.2 436.7,72.8 436.9,69.8 437.1,73.3 437.2,72.3 437.4,72.1 437.5,76.3 437.7,66.6 437.9,73.4 438.0,69.1 438.2,71.6 438.3,77.2 438.5,69.5 438.7,72.5 438.8,71.2 439.0,75.7 439.1,70.4 439.3,68.5 439.5,74.8 439.6,72.5 439.8,72.7 439.9,76.7 440.1,71.5 440.3,73.0 440.4,74.5 440.6,75.4 440.7,73.0 440.9,77.3 441.1,80.4 441.2,73.6 441.4,79.9 441.5,68.9 441.7,78.8 441.9,73.9 442.0,75.3 442.2,74.0 442.3,73.1 442.5,71.2 442.7,73.9 442.8,79.0 443.0,78.5 443.1,73.9 443.3,73.3 443.5,72.7 443.6,71.2 443.8,80.3 443.9,76.8 444.1,75.1 444.3,73.2 444.4,71.5 444.6,78.6 444.7,76.9 444.9,71.6 445.1,77.5 445.2,71.1 445.4,76.3 445.5,71.5 445.7,73.1 445.9,75.8 446.0,75.5 446.2,77.2 446.3,71.6 446.5,78.9 446.7,78.1 446.8,74.0 447.0,75.4 447.1,71.7 447.3,73.6 447.5,70.1 447.6,74.4 447.8,74.8 447.9,78.3 448.1,77.2 448.3,76.8 448.4,73.3 448.6,73.7 448.7,73.4 448.9,75.2 449.1,68.6 449.2,77.0 449.4,69.8 449.5,73.1 449.7,74.8 449.9,73.2 450.0,80.0 450.2,74.7 450.3,80.2 450.5,79.1 450.7,74.0 450.8,77.1 451.0,80.2 451.1,75.1 451.3,76.7 451.5,74.7 451.6,76.9 451.8,75.7 451.9,77.4 452.1,80.7 452.3,82.3 452.4,78.2 452.6,78.6 452.7,81.1 452.9,77.3 453.1,74.7 453.2,82.6 453.4,75.5 453.5,82.4 453.7,75.7 453.9,85.4 454.0,75.8 454.2,82.1 454.3,84.2 454.5,76.5 454.7,84.1 454.8,77.2 455.0,74.7 455.1,81.8 455.3,81.7 455.5,78.9 455.6,73.0 455.8,79.2 455.9,78.4 456.1,78.1 456.3,78.3 456.4,73.5 456.6,77.2 456.7,84.7 456.9,83.8 457.1,77.6 457.2,76.4 457.4,80.0 457.5,82.1 457.7,80.9 457.9,74.5 458.0,78.9 458.2,78.8 458.3,83.2 458.5,82.3 458.7,79.9 458.8,82.2 459.0,76.8 459.1,83.1 459.3,76.7 459.5,79.3 459.6,80.8 459.8,75.2 459.9,75.9 460.1,72.8 460.3,78.4 460.4,77.7 460.6,76.9 460.7,79.2 460.9,72.1 461.1,77.7 461.2,78.0 461.4,77.0 461.5,79.7 461.7,81.9 461.9,76.6 462.0,75.4 462.2,76.2 462.3,77.8 462.5,78.8 462.7,75.7 462.8,79.6 463.0,75.1 463.1,79.1 463.3,78.2 463.5,78.2 463.6,82.2 463.8,76.4 463.9,76.6 464.1,78.1 464.3,79.0 464.4,73.3 464.6,77.4 464.7,74.6 464.9,78.2 465.1,80.2 465.2,76.5 465.4,76.0 465.5,76.8 465.7,69.8 465.9,78.4 466.0,77.7 466.2,76.5 466.3,74.7 466.5,73.5 466.7,75.2 466.8,79.6 467.0,75.3 467.1,80.0 467.3,68.6 467.5,74.2 467.6,76.6 467.8,75.7 467.9,70.4 468.1,73.6 468.3,79.9 468.4,71.7 468.6,72.7 468.7,72.4 468.9,74.1 469.1,78.0 469.2,77.9 469.4,69.4 469.5,80.8 469.7,74.2 469.9,74.2 470.0,81.5 470.2,75.9 470.3,72.2 470.5,74.2 470.7,73.9 470.8,73.0 471.0,75.2 471.1,79.2 471.3,77.5 471.5,71.9 471.6,83.5 471.8,73.3 471.9,76.8 472.1,76.6 472.3,78.9 472.4,75.5 472.6,77.9 472.7,83.0 472.9,76.9 473.1,73.3 473.2,77.6 473.4,74.3 473.5,75.6 473.7,77.2 473.9,77.6 474.0,75.7 474.2,79.0 474.3,75.9 474.5,72.5 474.7,79.0 474.8,75.2 475.0,79.9 475.1,74.2 475.3,77.9 475.5,77.1 475.6,69.4 475.8,71.4 475.9,72.5 476.1,80.3 476.3,70.0 476.4,78.7 476.6,79.3 476.7,77.3 476.9,77.9 477.1,74.1 477.2,75.6 477.4,76.3 477.5,76.9 477.7,77.8 477.9,74.8 478.0,73.1 478.2,73.5 478.3,76.7 478.5,69.8 478.7,71.1 478.8,73.8 479.0,73.3 479.1,74.3 479.3,67.9 479.5,74.1 479.6,74.4 479.8,77.8 479.9,68.7 480.1,74.3 480.3,76.9 480.4,76.9 480.6,79.3 480.7,78.9 480.9,71.9 481.1,77.5 481.2,74.3 481.4,72.7 481.5,80.5 481.7,73.3 481.9,72.6 482.0,74.1 482.2,72.7 482.3,78.9 482.5,76.8 482.7,80.2 482.8,76.9 483.0,73.5 483.1,79.1 483.3,73.4 483.5,74.1 483.6,75.1 483.8,75.8 483.9,79.7 484.1,73.7 484.3,76.9 484.4,75.6 484.6,71.5 484.7,71.9 484.9,74.6 485.1,76.4 485.2,76.0 485.4,76.3 485.5,74.8 485.7,73.1 485.9,75.6 486.0,71.1 486.2,70.0 486.3,72.8 486.5,69.5 486.7,71.9 486.8,71.1 487.0,71.5 487.1,72.8 487.3,70.6 487.5,71.4 487.6,67.9 487.8,72.7 487.9,69.8 488.1,73.2 488.3,66.0 488.4,69.7 488.6,72.6 488.7,65.6 488.9,70.7 489.1,71.9 489.2,71.8 489.4,67.0 489.5,72.1 489.7,71.7 489.9,68.2 490.0,73.4 490.2,70.9 490.3,71.0 490.5,69.4 490.7,72.5 490.8,71.0 491.0,74.3 491.1,72.1 491.3,68.6 491.5,69.8 491.6,73.5 491.8,69.4 491.9,71.8 492.1,72.2 492.3,69.9 492.4,63.5 492.6,70.9 492.7,71.2 492.9,70.9 493.1,68.1 493.2,74.5 493.4,70.5 493.5,69.2 493.7,69.1 493.9,72.6 494.0,68.4 494.2,68.8 494.3,78.0 494.5,76.1 494.7,75.5 494.8,76.6 495.0,74.5 495.1,68.1 495.3,76.6 495.5,76.9 495.6,75.0 495.8,68.3 495.9,77.4 496.1,77.9 496.3,73.0 496.4,74.8 496.6,76.6 496.7,74.2 496.9,77.5 497.1,74.7 497.2,76.4 497.4,74.6 497.5,70.0 497.7,71.4 497.9,80.9 498.0,75.2 498.2,78.4 498.3,77.8 498.5,79.7 498.7,76.0 498.8,72.3 499.0,74.3 499.1,67.8 499.3,73.5 499.5,77.2 499.6,66.8 499.8,74.8 499.9,77.0 500.1,78.7 500.3,70.8 500.4,71.7 500.6,67.2 500.7,70.3 500.9,76.0 501.1,81.6 501.2,70.1 501.4,79.2 501.5,75.8 501.7,72.6 501.9,82.2 502.0,66.8 502.2,74.3 502.3,75.4 502.5,82.2 502.7,81.1 502.8,82.4 503.0,75.3 503.1,78.3 503.3,79.7 503.5,76.8 503.6,76.3 503.8,74.5 503.9,73.8 504.1,71.0 504.3,82.0 504.4,73.9 504.6,68.3 504.7,76.4 504.9,75.4 505.1,76.2 505.2,81.7 505.4,75.3 505.5,74.8 505.7,73.3 505.9,75.7 506.0,74.4 506.2,76.5 506.3,82.7 506.5,77.2 506.7,73.3 506.8,81.9 507.0,78.7 507.1,78.5 507.3,78.2 507.5,78.5 507.6,78.0 507.8,80.2 507.9,79.0 508.1,79.9 508.3,74.4 508.4,75.9 508.6,73.7 508.7,78.6 508.9,78.2 509.1,74.4 509.2,77.5 509.4,82.0 509.5,79.3 509.7,72.4 509.9,75.4 510.0,77.4 510.2,75.5 510.3,76.7 510.5,78.9 510.7,76.4 510.8,72.3 511.0,77.5 511.1,75.1 511.3,75.7 511.5,73.7 511.6,71.4 511.8,71.9 511.9,74.6 512.1,72.8 512.3,69.9 512.4,79.3 512.6,73.1 512.7,74.4 512.9,78.1 513.1,70.9 513.2,80.6 513.4,75.0 513.5,79.1 513.7,76.1 513.9,78.4 514.0,78.0 514.2,77.9 514.3,73.3 514.5,74.4 514.7,78.3 514.8,82.2 515.0,77.3 515.1,80.2 515.3,79.3 515.5,80.2 515.6,81.8 515.8,74.5 515.9,79.8 516.1,78.4 516.3,78.0 516.4,76.3 516.6,76.4 516.7,75.6 516.9,75.4 517.1,85.1 517.2,83.6 517.4,78.5 517.5,80.6 517.7,75.5 517.9,72.0 518.0,72.9 518.2,78.6 518.3,82.4 518.5,78.1 518.7,75.5 518.8,77.6 519.0,75.6 519.1,74.6 519.3,77.8 519.5,77.4 519.6,76.3 519.8,76.2 519.9,76.1 520.1,79.2 520.3,82.2 520.4,78.1 520.6,84.5 520.7,74.9 520.9,80.1 521.1,76.4 521.2,79.4 521.4,80.4 521.5,82.0 521.7,83.9 521.9,79.1 522.0,77.1 522.2,80.6 522.3,82.4 522.5,79.4 522.7,84.9 522.8,87.9 523.0,77.4 523.1,83.9 523.3,86.5 523.5,76.1 523.6,84.1 523.8,82.4 523.9,77.9 524.1,87.7 524.3,83.7 524.4,81.1 524.6,84.3 524.7,84.8 524.9,85.1 525.1,84.4 525.2,83.7 525.4,78.4 525.5,80.8 525.7,82.4 525.9,75.1 526.0,88.5 526.2,80.6 526.3,78.4 526.5,76.1 526.7,82.2 526.8,81.5 527.0,79.6 527.1,80.0 527.3,78.6 527.5,79.0 527.6,80.9 527.8,79.2 527.9,83.4 528.1,80.8 528.3,81.8 528.4,82.8 528.6,85.7 528.7,83.6 528.9,82.5 529.1,81.3 529.2,79.2 529.4,80.8 529.5,84.4 529.7,82.9 529.9,80.8 530.0,77.7 530.2,77.1 530.3,83.1 530.5,85.3 530.7,83.2 530.8,77.8"/>
<!-- axis break marks -->
<g stroke="#000" stroke-width="1.3" stroke-linecap="butt">
<line x1="284.4" y1="42.4" x2="289" y2="27"/>
<line x1="306.8" y1="43" x2="311.5" y2="28.4"/>
<line x1="284.3" y1="418" x2="289" y2="402.3"/>
<line x1="308.2" y1="418" x2="312.2" y2="402.3"/>
</g>
<!-- y tick labels -->
<g class="tk" text-anchor="end">
<text transform="translate(62.7,74.5) scale(1.06,1)">0.05</text>
<text transform="translate(62.7,108.6) scale(1.06,1)">0.04</text>
<text transform="translate(62.7,142.7) scale(1.06,1)">0.03</text>
<text transform="translate(62.7,176.7) scale(1.06,1)">0.02</text>
<text transform="translate(62.7,210.8) scale(1.06,1)">0.01</text>
<text transform="translate(62.7,244.9) scale(1.06,1)">0</text>
<text transform="translate(62.7,279.0) scale(1.06,1)">-0.01</text>
<text transform="translate(62.7,313.1) scale(1.06,1)">-0.02</text>
<text transform="translate(62.7,347.1) scale(1.06,1)">-0.03</text>
<text transform="translate(62.7,381.2) scale(1.06,1)">-0.04</text>
<text transform="translate(62.7,415.3) scale(1.06,1)">-0.05</text>
</g>
<!-- x tick labels -->
<g class="tk" text-anchor="middle">
<text transform="translate(66.6,426.8) scale(1.06,1)">0</text>
<text transform="translate(139.9,426.8) scale(1.06,1)">5</text>
<text transform="translate(213.5,426.8) scale(1.06,1)">10</text>
<text transform="translate(287.3,426.8) scale(1.06,1)">15</text>
<text transform="translate(309.8,426.8) scale(1.06,1)">3000</text>
<text transform="translate(383.6,426.8) scale(1.06,1)">3005</text>
<text transform="translate(457.1,426.8) scale(1.06,1)">3010</text>
<text transform="translate(530.3,426.8) scale(1.06,1)">3015</text>
</g>
<!-- legend -->
<line x1="127.9" y1="16.8" x2="170.4" y2="16.8" stroke="#078f8d" stroke-width="2.6"/>
<text class="lg" transform="translate(173.7,25.6) scale(0.992,1)">Prior Signal</text>
<line x1="299.1" y1="17" x2="341.3" y2="17" stroke="#a6cee3" stroke-width="1.7"/>
<text class="lg" transform="translate(345.1,25.6) scale(0.992,1)">Burst Signal</text>
<!-- axis labels -->
<text class="ax" transform="translate(299.4,453.4) scale(1.01,1)" text-anchor="middle" font-size="24.2">Time(ms)</text>
<text class="ax" transform="translate(24.7,219.5) rotate(-90) scale(0.995,1)" text-anchor="middle" font-size="24.8">Convergence</text>
</svg>
</body></html>
